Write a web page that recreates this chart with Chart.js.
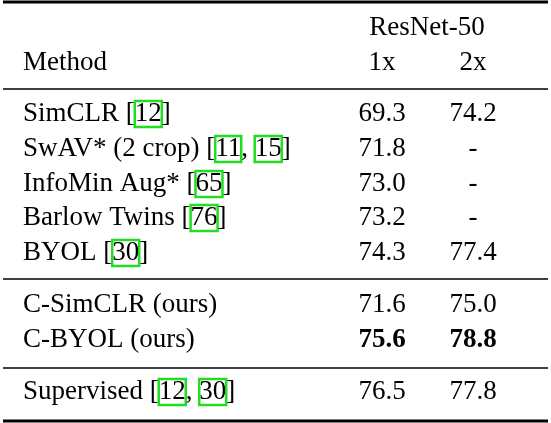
<!DOCTYPE html><html><head><meta charset="utf-8">
<script src="https://cdn.jsdelivr.net/npm/chart.js@4/dist/chart.umd.min.js"></script>
<style>html,body{margin:0;padding:0;background:#fff}#w{width:551px;height:423px}</style></head><body>
<div id="w"><canvas id="c"></canvas></div>
<script>
const methods=["SimCLR","SwAV* (2 crop)","InfoMin Aug*","Barlow Twins","BYOL","C-SimCLR (ours)","C-BYOL (ours)","Supervised"];
const refs=[[12],[11,15],[65],[76],[30],[],[],[12,30]];
const res1x=["69.3","71.8","73.0","73.2","74.3","71.6","75.6","76.5"];
const res2x=["74.2","-","-","-","77.4","75.0","78.8","77.8"];
const boldRows=[6];
const rowY=[114,149,184,218,253,305,340,392];
const ruleY=[2,89,279,368,421];
const ruleW=[3,1.5,1.5,1.5,3];
const colX={method:23,c1:382,c2:473,group:427};
const F='"Liberation Serif", "Times New Roman", serif';
const fs=27;
const tablePlugin={id:'table',afterDatasetsDraw(ch){
 const c=ch.ctx,xs=ch.scales.x,ys=ch.scales.y;
 c.save();c.fillStyle='#000';c.textBaseline='middle';
 ruleY.forEach((y,i)=>{c.fillRect(xs.getPixelForValue(0)+3,ys.getPixelForValue(y)-ruleW[i]/2,xs.getPixelForValue(551)-xs.getPixelForValue(0)-6,ruleW[i]);});
 c.font=fs+'px '+F;c.textAlign='center';
 c.fillText('ResNet-50',xs.getPixelForValue(colX.group),ys.getPixelForValue(28));
 c.fillText('1x',xs.getPixelForValue(colX.c1),ys.getPixelForValue(63));
 c.fillText('2x',xs.getPixelForValue(colX.c2),ys.getPixelForValue(63));
 c.textAlign='left';c.fillText('Method',xs.getPixelForValue(colX.method),ys.getPixelForValue(63));
 methods.forEach((m,i)=>{
  const y=ys.getPixelForValue(rowY[i]);let x=xs.getPixelForValue(colX.method);
  c.font=fs+'px '+F;c.textAlign='left';
  let s=m+(refs[i].length?' [':'');c.fillText(s,x,y);x+=c.measureText(s).width;
  refs[i].forEach((r,k)=>{const t=String(r);const w=c.measureText(t).width;c.fillText(t,x,y);
    c.strokeStyle='#22dd22';c.lineWidth=2.5;c.strokeRect(x,y-13,w,26);x+=w;
    if(k<refs[i].length-1){c.fillText(', ',x,y);x+=c.measureText(', ').width;}});
  if(refs[i].length)c.fillText(']',x,y);
  c.textAlign='center';c.font=(boldRows.includes(i)?'bold ':'')+fs+'px '+F;
  c.fillText(res1x[i],xs.getPixelForValue(colX.c1),y);
  c.fillText(res2x[i],xs.getPixelForValue(colX.c2),y);
 });
 c.restore();}};
function make(){new Chart(document.getElementById('c'),{type:'scatter',
 data:{datasets:[{data:rowY.map(y=>({x:colX.c1,y})),pointRadius:0}]},
 options:{responsive:true,maintainAspectRatio:false,animation:false,layout:{padding:0},
  plugins:{legend:{display:false},tooltip:{enabled:false}},
  scales:{x:{type:'linear',min:0,max:551,display:false},y:{type:'linear',min:0,max:423,reverse:true,display:false}}},
 plugins:[tablePlugin]});}
Promise.all([document.fonts.load(fs+'px "Liberation Serif"'),document.fonts.load('bold '+fs+'px "Liberation Serif"')]).then(make,make);
</script></body></html>
